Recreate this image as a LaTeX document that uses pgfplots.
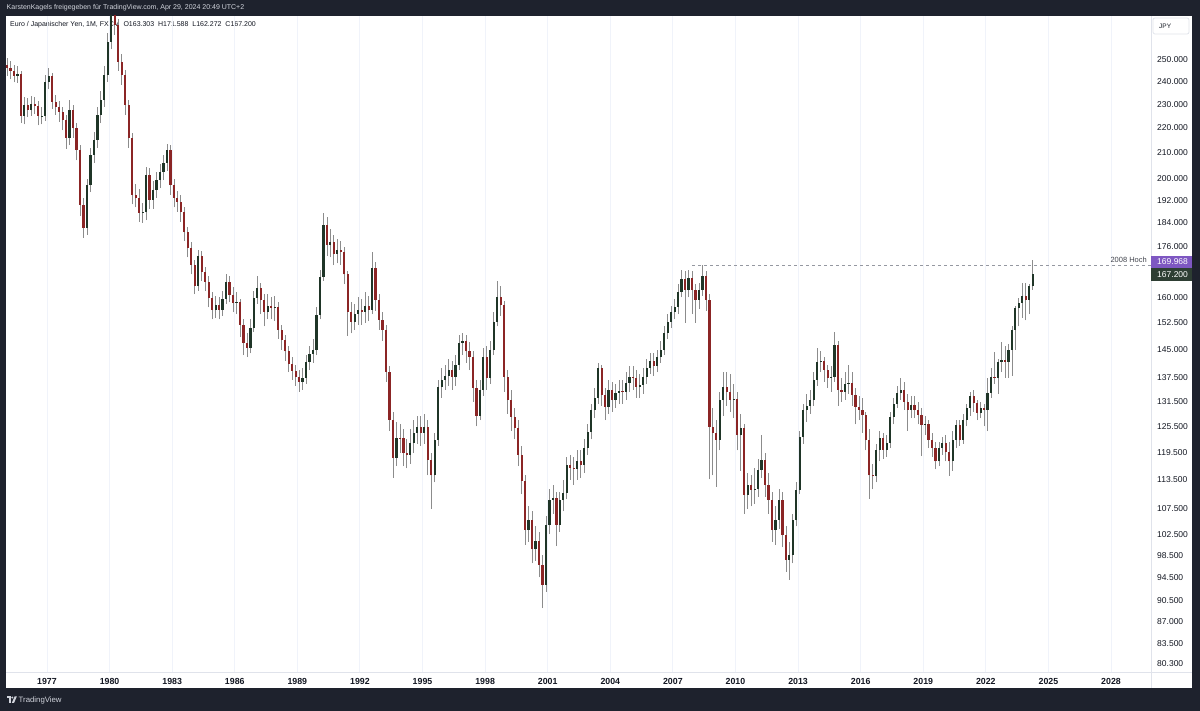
\documentclass[border=0pt]{standalone}
\usepackage{pgfplots}
\pgfplotsset{compat=1.18}
\usepackage{pgfplotstable}
\usepackage{fontspec}
\setmainfont{Liberation Sans}
\definecolor{tvdark}{HTML}{1E222D}
\definecolor{gridc}{HTML}{F0F3FA}
\definecolor{sepc}{HTML}{E0E3EB}
\definecolor{textc}{HTML}{131722}
\definecolor{hdrc}{HTML}{D1D4DC}
\definecolor{upc}{HTML}{1F3527}
\definecolor{downc}{HTML}{8B2525}
\definecolor{wickc}{HTML}{8C8C8C}
\definecolor{purplec}{HTML}{7E57C2}
\definecolor{lastc}{HTML}{2E3E33}
\definecolor{dashc}{HTML}{9598A1}

\pgfplotstableread{
i o h l c
0 247.5 251.0 242.5 246.2
1 246.2 249.5 241.0 244.8
2 244.8 247.5 239.6 242.6
3 242.6 247.0 239.5 243.5
4 243.5 245.0 222.0 225.0
5 225.0 233.0 221.5 229.7
6 229.7 232.5 224.5 227.6
7 227.6 233.5 225.0 230.2
8 230.2 233.0 226.0 229.3
9 229.3 231.5 221.0 225.0
10 225.0 229.0 221.5 225.1
11 225.1 243.0 223.0 239.9
12 239.9 246.0 236.5 242.6
13 242.6 244.0 228.0 231.0
14 231.0 234.0 225.5 228.9
15 228.9 231.5 222.5 226.7
16 226.7 229.0 219.0 223.3
17 223.3 225.5 211.5 215.9
18 215.9 232.0 213.0 227.6
19 227.6 229.5 216.0 220.0
20 220.0 222.0 207.0 211.1
21 211.1 213.0 186.5 190.4
22 190.4 193.0 179.0 182.3
23 182.3 200.0 180.0 197.6
24 197.6 212.0 195.0 209.1
25 209.1 218.5 206.0 215.1
26 215.1 229.0 212.0 225.4
27 225.4 236.0 222.0 231.9
28 231.9 247.0 229.0 243.0
29 243.0 263.0 240.0 258.6
30 258.6 290.0 255.0 274.6
31 274.6 292.0 262.0 267.0
32 267.0 270.0 245.0 249.1
33 249.1 253.0 238.5 243.0
34 243.0 245.5 225.5 229.7
35 229.7 232.0 212.0 215.9
36 215.9 218.0 190.5 194.0
37 194.0 198.0 189.5 192.9
38 192.9 196.0 184.5 187.6
39 187.6 191.0 184.0 187.7
40 187.7 204.5 185.0 201.4
41 201.4 204.0 189.0 192.2
42 192.2 199.0 189.0 195.8
43 195.8 202.5 193.0 199.5
44 199.5 205.5 196.5 202.5
45 202.5 209.0 199.5 206.0
46 206.0 213.5 203.0 211.1
47 211.1 213.0 194.0 197.6
48 197.6 200.0 189.5 192.9
49 192.9 195.5 188.0 191.5
50 191.5 194.0 184.5 187.9
51 187.9 189.5 178.0 180.9
52 180.9 182.5 172.5 175.6
53 175.6 177.5 167.0 170.1
54 170.1 171.5 161.0 163.5
55 163.5 175.0 162.0 173.0
56 173.0 174.5 165.0 167.9
57 167.9 169.5 162.0 164.8
58 164.8 166.5 157.0 159.9
59 159.9 161.5 153.5 156.3
60 156.3 160.5 154.0 157.8
61 157.8 160.0 153.5 156.3
62 156.3 162.0 154.5 159.6
63 159.6 167.0 158.0 164.8
64 164.8 166.5 158.5 160.8
65 160.8 163.0 155.5 158.4
66 158.4 161.5 155.0 158.5
67 158.5 159.5 148.5 151.9
68 151.9 153.5 143.5 146.9
69 146.9 149.5 143.0 145.5
70 145.5 153.5 144.0 151.1
71 151.1 162.0 150.0 159.9
72 159.9 166.5 158.0 162.9
73 162.9 164.5 155.0 159.3
74 159.3 161.0 151.5 155.7
75 155.7 161.0 153.5 157.5
76 157.5 160.0 153.5 156.9
77 156.9 160.5 153.0 157.2
78 157.2 158.5 148.0 150.5
79 150.5 152.0 145.0 147.7
80 147.7 149.0 142.0 144.5
81 144.5 146.0 139.0 141.2
82 141.2 143.0 137.0 139.4
83 139.4 141.0 135.5 137.8
84 137.8 139.5 134.0 136.5
85 136.5 140.0 134.5 137.5
86 137.5 143.5 136.0 141.8
87 141.8 146.0 139.5 143.9
88 143.9 148.0 141.5 145.0
89 145.0 157.0 143.5 154.9
90 154.9 168.5 153.5 166.3
91 166.3 187.5 165.0 183.4
92 183.4 186.0 173.0 176.6
93 176.6 182.0 172.5 177.6
94 177.6 180.0 170.0 173.6
95 173.6 178.5 170.5 174.9
96 174.9 178.0 170.0 174.3
97 174.3 176.0 164.0 167.0
98 167.0 168.0 148.8 155.7
99 155.7 158.5 149.5 152.8
100 152.8 158.0 150.5 155.1
101 155.1 160.0 152.0 156.3
102 156.3 159.5 152.0 155.7
103 155.7 161.5 152.5 157.5
104 157.5 160.5 153.0 156.3
105 156.3 174.3 155.0 169.1
106 169.1 171.0 156.0 159.3
107 159.3 161.0 150.5 153.4
108 153.4 155.5 147.5 150.5
109 150.5 152.0 136.5 139.1
110 139.1 140.5 124.5 127.1
111 127.1 129.0 114.0 118.3
112 118.3 126.5 116.5 122.9
113 122.9 126.0 119.5 122.8
114 122.8 125.0 116.5 119.4
115 119.4 122.5 116.0 119.0
116 119.0 125.0 117.0 121.7
117 121.7 127.0 119.5 124.0
118 124.0 128.0 121.5 125.4
119 125.4 128.0 121.0 124.0
120 124.0 128.5 121.5 125.4
121 125.4 127.0 114.5 117.9
122 117.9 119.5 107.5 114.5
123 114.5 124.0 113.0 122.4
124 122.4 137.0 121.0 135.2
125 135.2 140.0 132.5 137.0
126 137.0 141.0 134.5 138.1
127 138.1 142.5 135.5 139.6
128 139.6 142.0 134.5 137.8
129 137.8 143.5 135.5 141.0
130 141.0 149.0 139.5 146.9
131 146.9 149.5 143.5 147.4
132 147.4 149.0 141.5 144.5
133 144.5 147.0 139.5 143.1
134 143.1 144.5 131.5 135.0
135 135.0 137.0 125.5 128.1
136 128.1 137.0 127.0 134.5
137 134.5 145.5 133.0 143.1
138 143.1 146.0 134.5 137.5
139 137.5 147.5 136.0 145.0
140 145.0 155.5 143.5 152.8
141 152.8 165.0 151.5 160.2
142 160.2 163.5 154.5 157.8
143 157.8 159.0 134.0 137.8
144 137.8 139.5 128.5 132.0
145 132.0 134.5 124.5 127.8
146 127.8 130.0 122.5 125.2
147 125.2 127.0 116.5 119.0
148 119.0 121.0 110.5 113.2
149 113.2 114.5 100.5 103.4
150 103.4 108.0 101.0 105.3
151 105.3 107.0 97.0 99.6
152 99.6 104.0 97.5 101.2
153 101.2 103.0 94.5 96.8
154 96.8 98.5 89.2 93.2
155 93.2 106.0 92.0 104.3
156 104.3 111.5 102.5 109.4
157 109.4 112.5 106.5 109.8
158 109.8 111.0 100.2 104.3
159 104.3 111.0 103.0 109.4
160 109.4 113.5 107.0 110.8
161 110.8 118.5 109.5 116.8
162 116.8 119.0 113.5 116.1
163 116.1 118.5 112.5 115.9
164 115.9 120.0 113.5 117.7
165 117.7 120.0 114.0 116.8
166 116.8 122.5 115.0 120.6
167 120.6 126.0 119.0 124.2
168 124.2 131.0 122.5 129.5
169 129.5 135.0 127.5 132.5
170 132.5 141.5 131.0 140.1
171 140.1 141.0 130.5 133.2
172 133.2 135.0 127.0 130.2
173 130.2 137.0 128.5 134.5
174 134.5 136.5 129.0 132.0
175 132.0 136.0 130.0 133.7
176 133.7 137.0 131.0 134.2
177 134.2 137.0 131.0 134.0
178 134.0 139.0 132.0 136.2
179 136.2 140.5 134.0 137.8
180 137.8 140.5 134.5 137.5
181 137.5 139.5 132.5 135.2
182 135.2 138.5 132.5 135.7
183 135.7 140.0 133.5 137.8
184 137.8 142.5 136.0 140.1
185 140.1 144.0 138.5 142.0
186 142.0 144.0 138.0 140.7
187 140.7 145.0 139.0 143.1
188 143.1 147.5 141.5 145.0
189 145.0 151.5 143.5 149.7
190 149.7 155.0 148.0 152.8
191 152.8 157.5 151.0 155.7
192 155.7 159.5 153.5 157.2
193 157.2 164.0 155.0 161.7
194 161.7 168.5 160.0 165.7
195 165.7 168.0 152.5 162.3
196 162.3 168.5 160.0 166.0
197 166.0 168.0 155.0 162.3
198 162.3 164.0 152.5 159.3
199 159.3 164.5 156.5 162.3
200 162.3 169.97 160.5 166.6
201 166.6 168.0 156.0 159.3
202 159.3 161.0 113.6 125.4
203 125.4 130.0 114.5 124.0
204 124.0 127.0 112.1 122.4
205 122.4 134.0 120.0 132.0
206 132.0 139.0 128.0 135.2
207 135.2 139.0 130.5 134.0
208 134.0 138.5 129.0 132.0
209 132.0 136.0 127.5 132.1
210 132.1 134.0 120.0 123.5
211 123.5 128.5 115.5 125.2
212 125.2 126.0 106.5 110.4
213 110.4 115.0 107.5 112.5
214 112.5 114.5 108.0 111.4
215 111.4 116.0 108.5 111.5
216 111.5 118.0 110.0 115.7
217 115.7 123.5 114.0 117.9
218 117.9 119.5 110.0 112.5
219 112.5 115.0 106.5 109.4
220 109.4 111.0 101.0 103.4
221 103.4 108.0 100.5 105.3
222 105.3 111.5 103.5 109.4
223 109.4 111.0 100.0 102.4
224 102.4 104.0 95.5 97.7
225 97.7 101.0 94.1 98.6
226 98.6 106.5 97.0 105.3
227 105.3 113.0 104.0 111.4
228 111.4 124.5 110.5 123.1
229 123.1 131.0 121.5 129.5
230 129.5 133.5 126.5 130.5
231 130.5 134.5 128.5 132.0
232 132.0 139.0 130.5 137.0
233 137.0 145.5 135.5 141.8
234 141.8 144.5 139.0 141.9
235 141.9 143.0 136.5 139.6
236 139.6 141.0 135.0 137.5
237 137.5 140.5 134.0 137.8
238 137.8 149.8 136.5 146.3
239 146.3 147.5 130.5 134.5
240 134.5 137.5 131.5 134.0
241 134.0 139.0 132.0 136.0
242 136.0 141.0 133.5 136.2
243 136.2 139.0 130.5 133.2
244 133.2 135.0 126.0 130.2
245 130.2 133.0 127.0 129.5
246 129.5 132.5 124.0 128.3
247 128.3 129.0 120.0 122.4
248 122.4 125.0 109.6 114.5
249 114.5 117.0 111.5 114.3
250 114.3 121.5 113.0 120.1
251 120.1 124.5 117.5 122.9
252 122.9 124.0 118.0 120.1
253 120.1 123.5 118.5 121.7
254 121.7 129.0 120.5 127.8
255 127.8 132.5 126.0 131.0
256 131.0 135.5 130.0 133.7
257 133.7 137.5 132.0 134.5
258 134.5 136.5 129.5 131.5
259 131.5 133.5 124.5 129.5
260 129.5 133.0 127.5 130.7
261 130.7 133.0 127.5 129.5
262 129.5 131.5 126.0 128.3
263 128.3 130.0 118.7 125.9
264 125.9 128.0 123.5 126.0
265 126.0 127.0 120.5 122.4
266 122.4 124.0 118.5 120.6
267 120.6 122.0 115.8 117.5
268 117.5 122.0 116.5 120.6
269 120.6 123.0 119.0 121.7
270 121.7 123.5 117.5 119.6
271 119.6 122.0 114.4 117.5
272 117.5 124.5 115.5 122.4
273 122.4 127.0 120.5 125.9
274 125.9 127.0 121.0 122.4
275 122.4 128.5 121.5 127.1
276 127.1 131.0 125.5 130.0
277 130.0 134.0 128.0 133.0
278 133.0 134.5 129.0 131.2
279 131.2 132.0 127.0 128.8
280 128.8 131.5 127.5 130.0
281 130.0 131.0 125.5 129.5
282 129.5 137.5 124.4 133.7
283 133.7 140.0 132.5 137.8
284 137.8 144.3 136.0 137.5
285 137.5 142.5 133.5 141.8
286 141.8 147.0 139.0 142.3
287 142.3 146.0 137.5 141.8
288 141.8 146.5 137.5 145.0
289 145.0 151.5 138.0 150.5
290 150.5 157.5 145.0 156.9
291 156.9 159.8 151.5 158.4
292 158.4 164.3 154.0 160.5
293 160.5 164.3 153.2 159.3
294 159.3 164.0 155.0 163.3
295 163.3 171.588 162.272 167.2
}\eurjpy

\pgfplotstableread{
x p
197 169.968
329 169.968
}\hochline

\begin{document}
\begin{tikzpicture}
\useasboundingbox (0pt,0pt) rectangle (1200pt,711pt);
\fill[tvdark] (0pt,0pt) rectangle (1200pt,711pt);
\fill[white] (6pt,23pt) rectangle (1192pt,695pt);
\node[anchor=west, inner sep=0pt, text=hdrc, font=\fontsize{7}{8}\selectfont] at (6.5pt,703pt)
  {KarstenKagels freigegeben für TradingView.com, Apr 29, 2024 20:49 UTC+2};
\node[anchor=west, inner sep=0pt, text=textc, font=\fontsize{7}{8}\selectfont] at (10pt,686pt)
  {Euro / Japanischer Yen, 1M, FXCM\ \ O163.303\ \ H171.588\ \ L162.272\ \ C167.200};
\begin{axis}[
  at={(6pt,39pt)}, anchor=south west, scale only axis,
  width=1145pt, height=656pt,
  xmin=-0.29, xmax=329, ymin=4.370713, ymax=5.603960,
  axis line style={draw=none},
  xtick={11.5,29.5,47.5,65.5,83.5,101.5,119.5,137.5,155.5,173.5,191.5,209.5,227.5,245.5,263.5,281.5,299.5,317.5},
  xticklabels={1977,1980,1983,1986,1989,1992,1995,1998,2001,2004,2007,2010,2013,2016,2019,2022,2025,2028},
  ytick={5.521461,5.480639,5.438079,5.393628,5.347108,5.298317,5.257495,5.214936,5.170484,5.075174,5.027164,4.976734,4.923624,4.879007,4.832306,4.783316,4.731803,4.677491,4.629863,4.590056,4.548600,4.505350,4.465908,4.424846,4.385769},
  yticklabels={250.000,240.000,230.000,220.000,210.000,200.000,192.000,184.000,176.000,160.000,152.500,145.000,137.500,131.500,125.500,119.500,113.500,107.500,102.500,98.500,94.500,90.500,87.000,83.500,80.300},
  yticklabel pos=right,
  major tick length=0pt, minor tick num=0,
  xmajorgrids, ymajorgrids=false,
  grid style={color=gridc, line width=0.9pt},
  xticklabel style={font=\fontsize{8.8}{10}\selectfont\bfseries, text=textc, anchor=center, yshift=-9pt, inner sep=0pt},
  yticklabel style={font=\fontsize{8.5}{10}\selectfont, text=textc, anchor=west, inner sep=0pt, xshift=6pt},
]
\addplot[draw=none, no markers, forget plot,
  error bars/.cd, y dir=plus, y explicit, error mark=none,
  error bar style={draw=wickc, line width=0.8pt}]
  table[x=i, y expr={ln(\thisrow{l})}, y error expr={ln(\thisrow{h})-ln(\thisrow{l})}] {\eurjpy};
\addplot[draw=none, no markers, forget plot,
  restrict expr to domain={\thisrow{c}-\thisrow{o}}{0:1000},
  error bars/.cd, y dir=plus, y explicit, error mark=none,
  error bar style={draw=upc, line width=2.2pt}]
  table[x=i, y expr={ln(\thisrow{o})}, y error expr={ln(\thisrow{c})-ln(\thisrow{o})}] {\eurjpy};
\addplot[draw=none, no markers, forget plot,
  restrict expr to domain={\thisrow{o}-\thisrow{c}}{0.001:1000},
  error bars/.cd, y dir=plus, y explicit, error mark=none,
  error bar style={draw=downc, line width=2.2pt}]
  table[x=i, y expr={ln(\thisrow{c})}, y error expr={ln(\thisrow{o})-ln(\thisrow{c})}] {\eurjpy};
\addplot[forget plot, no markers, color=dashc, line width=0.8pt, dash pattern=on 3pt off 3pt]
  table[x=x, y expr={ln(\thisrow{p})}] {\hochline};
\end{axis}
% separators
\draw[sepc, line width=0.8pt] (6pt,39pt) -- (1192pt,39pt);
\draw[sepc, line width=0.8pt] (1151pt,23pt) -- (1151pt,695pt);
% JPY box
\draw[sepc, line width=0.7pt, fill=white, rounded corners=2pt] (1153pt,677pt) rectangle (1189pt,693pt);
\node[anchor=west, inner sep=0pt, text=textc, font=\fontsize{6.5}{7}\selectfont] at (1159pt,685pt) {JPY};
% 2008 Hoch label
\node[anchor=east, inner sep=0pt, text=textc!80, font=\fontsize{7.5}{8}\selectfont] at (1147pt,451pt) {2008 Hoch};
% price tags
\fill[purplec] (1151pt,442.8pt) rectangle (1192pt,455.3pt);
\node[anchor=west, inner sep=0pt, text=white, font=\fontsize{8.5}{9}\selectfont] at (1157pt,449pt) {169.968};
\fill[lastc] (1151pt,430.3pt) rectangle (1192pt,442.8pt);
\node[anchor=west, inner sep=0pt, text=white, font=\fontsize{8.5}{9}\selectfont] at (1157pt,436.5pt) {167.200};
% TradingView logo
\fill[hdrc] (6.5pt,12.5pt) rectangle (10.5pt,14.5pt);
\fill[hdrc] (8.5pt,8pt) rectangle (10.5pt,14.5pt);
\fill[hdrc] (12.3pt,13.4pt) circle (1.1pt);
\fill[hdrc] (11.8pt,8pt) -- (14.0pt,8pt) -- (16.8pt,14.5pt) -- (14.6pt,14.5pt) -- cycle;
\node[anchor=west, inner sep=0pt, text=hdrc, font=\fontsize{7.8}{8}\selectfont] at (18.5pt,10.5pt) {TradingView};
\end{tikzpicture}
\end{document}
